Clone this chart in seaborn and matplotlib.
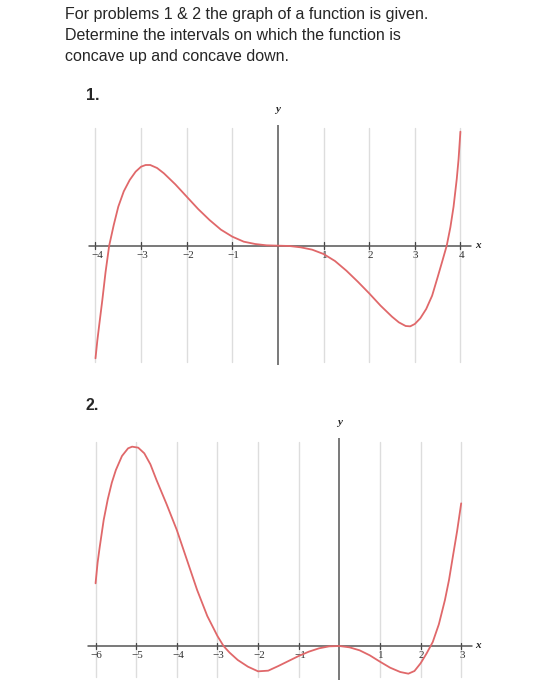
import matplotlib
matplotlib.use("Agg")
import matplotlib.pyplot as plt
import seaborn as sns
import pandas as pd

# Graph 1 data
x1 = [-4, -3.96, -3.92, -3.85, -3.78, -3.7, -3.6, -3.5, -3.38, -3.25, -3.12, -3, -2.9, -2.8,
      -2.65, -2.5, -2.25, -2, -1.75, -1.5, -1.25, -1, -0.75, -0.5, -0.25, 0,
      0.25, 0.5, 0.75, 1, 1.25, 1.5, 1.75, 2, 2.25, 2.5, 2.65, 2.8, 2.9, 3, 3.12, 3.25,
      3.38, 3.5, 3.6, 3.7, 3.78, 3.85, 3.92, 3.96, 4]
y1 = [-3.38, -2.85, -2.4, -1.63, -0.8, 0, 0.62, 1.17, 1.63, 1.97, 2.22, 2.37, 2.42, 2.42,
      2.33, 2.17, 1.84, 1.47, 1.1, 0.77, 0.48, 0.27, 0.12, 0.05, 0.01, 0,
      -0.01, -0.05, -0.12, -0.25, -0.46, -0.75, -1.08, -1.43, -1.8, -2.13, -2.3, -2.41, -2.42,
      -2.35, -2.18, -1.9, -1.5, -0.95, -0.48, 0, 0.55, 1.17, 2.0, 2.6, 3.42]
ticks1 = [-4, -3, -2, -1, 1, 2, 3, 4]
ticklabels1 = ["−4", "−3", "−2", "−1", "1", "2", "3", "4"]

# Graph 2 data
x2 = [-6, -5.95, -5.9, -5.8, -5.7, -5.6, -5.5, -5.35, -5.2, -5.1, -4.95, -4.8, -4.65, -4.5,
      -4.25, -4, -3.75, -3.5, -3.25, -3, -2.85, -2.7, -2.5, -2.25, -2, -1.75, -1.5, -1.25, -1,
      -0.75, -0.5, -0.25, 0, 0.25, 0.5, 0.75, 1, 1.25, 1.5, 1.7, 1.85, 2, 2.15, 2.3, 2.45,
      2.6, 2.7, 2.8, 2.9, 3]
y2 = [1.88, 2.5, 2.95, 3.78, 4.4, 4.9, 5.28, 5.7, 5.93, 5.98, 5.95, 5.78, 5.45, 4.98,
      4.25, 3.48, 2.58, 1.68, 0.9, 0.3, 0.0, -0.2, -0.42, -0.62, -0.76, -0.74, -0.6, -0.45,
      -0.3, -0.17, -0.07, -0.01, 0, -0.04, -0.13, -0.28, -0.47, -0.65, -0.78, -0.83, -0.75,
      -0.52, -0.22, 0.12, 0.65, 1.38, 1.98, 2.72, 3.45, 4.28]
ticks2 = [-6, -5, -4, -3, -2, -1, 1, 2, 3]
ticklabels2 = ["−6", "−5", "−4", "−3", "−2", "−1", "1", "2", "3"]

sns.set_theme(style="white")
plt.rcParams['font.family'] = ['Liberation Sans', 'DejaVu Sans']

W, H = 560, 700
fig = plt.figure(figsize=(5.6, 7), dpi=100)
fig.patch.set_facecolor("white")

fig.text(65/W, 1 - 14/H, "For problems 1 & 2 the graph of a function is given.", fontsize=11.5, va="center")
fig.text(65/W, 1 - 35/H, "Determine the intervals on which the function is", fontsize=11.5, va="center")
fig.text(65/W, 1 - 56/H, "concave up and concave down.", fontsize=11.5, va="center")
fig.text(86/W, 1 - 96/H, "1.", fontsize=11.5, weight="bold", va="center")
fig.text(86/W, 1 - 405/H, "2.", fontsize=11.5, weight="bold", va="center")

red = "#e0686a"
serif = ['Liberation Serif', 'DejaVu Serif']

def panel(rect, xs, ys, xlim, ylim, ticks, labels, gridtop, gridbot):
    ax = fig.add_axes(rect)
    ax.set_xlim(*xlim); ax.set_ylim(*ylim)
    for s in ax.spines.values():
        s.set_visible(False)
    ax.set_xticks([]); ax.set_yticks([])
    for t in ticks:
        ax.plot([t, t], [gridbot, gridtop], color="#dddddd", lw=1, zorder=1)
        ax.plot([t, t], [-0.1, 0.1], color="#444444", lw=0.9, zorder=2)
    for t, l in zip(ticks, labels):
        ax.text(t + (0.03 if t < 0 else 0.02), -0.15, l, ha="center", va="top",
                fontsize=8, family=serif, color="#333333")
    ax.plot([xlim[0] + 0.08, xlim[1] - 0.08], [0, 0], color="#555555", lw=1.1, zorder=2)
    ax.plot([0, 0], [ylim[0], gridtop + 0.05 * (ylim[1] - ylim[0])], color="#555555", lw=1.1, zorder=2)
    ax.text(0, gridtop + 0.1 * (ylim[1] - ylim[0]) * 0.6, "y", ha="center", va="bottom",
            fontsize=8, style="italic", weight="bold", family=serif)
    ax.text(xlim[1], 0, "x", ha="left", va="center", fontsize=8, style="italic",
            weight="bold", family=serif)
    df = pd.DataFrame({"x": xs, "y": ys})
    sns.lineplot(data=df, x="x", y="y", ax=ax, color=red, lw=1.3, sort=False, zorder=3)
    ax.set_xlabel(""); ax.set_ylabel("")
    return ax

panel([85/W, (H-365)/H, 390/W, 240/H], x1, y1, (-4.23, 4.32), (-3.58, 3.62),
      ticks1, ticklabels1, 3.53, -3.49)
panel([85/W, (H-680)/H, 390/W, 242/H], x2, y2, (-6.26, 3.34), (-1.02, 6.24),
      ticks2, ticklabels2, 6.13, -0.92)

fig.savefig("out.png", dpi=100, facecolor="white")
